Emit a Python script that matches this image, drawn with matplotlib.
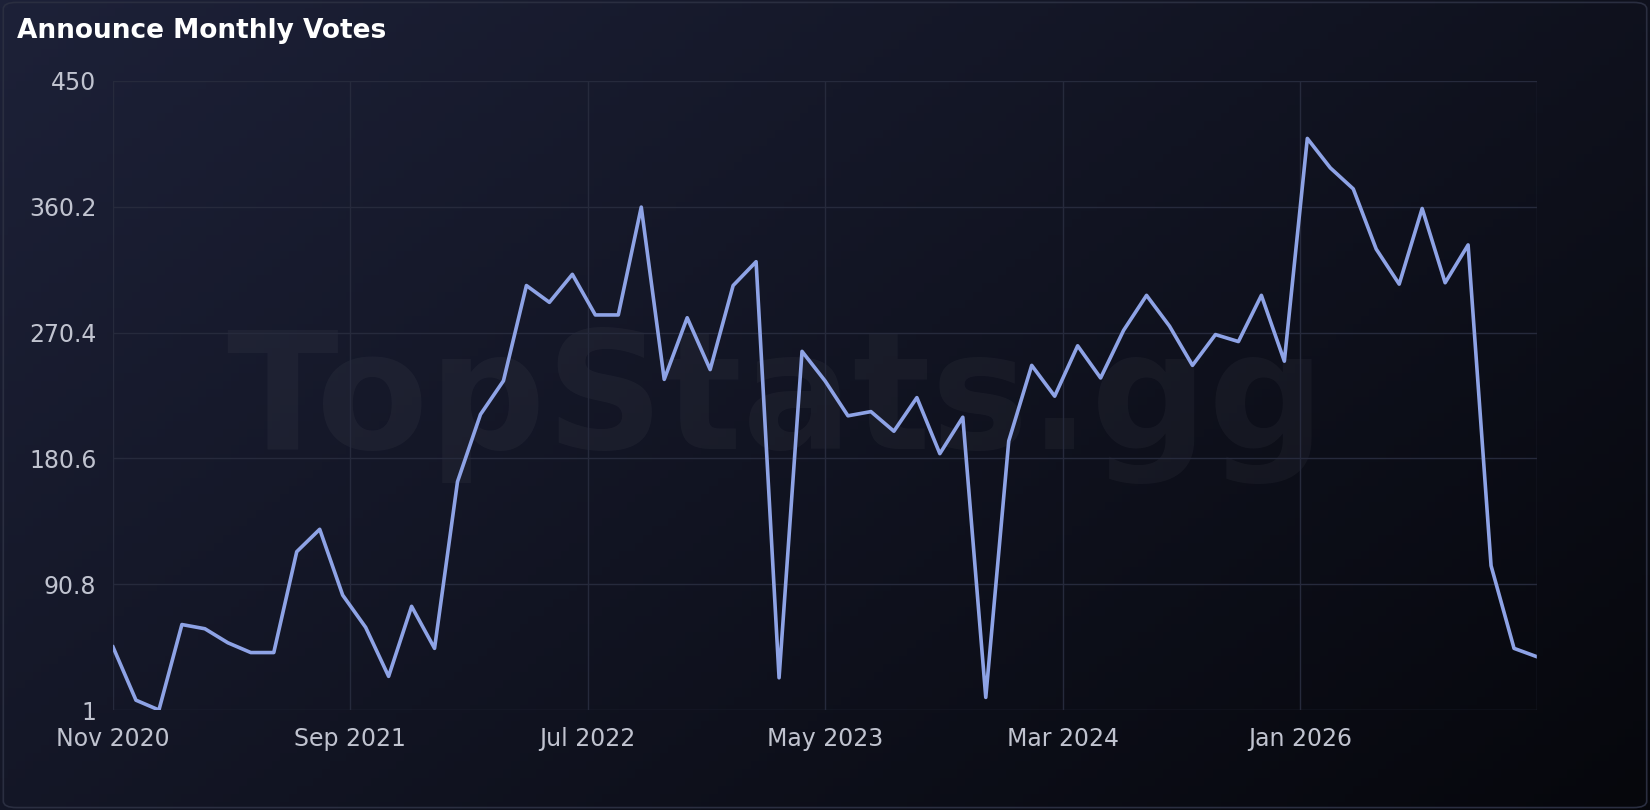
import matplotlib
matplotlib.use("Agg")
import matplotlib.pyplot as plt
import numpy as np
from matplotlib.patches import FancyBboxPatch

values = [46, 8, 1, 62, 59, 49, 42, 42, 114, 130, 83, 60, 25, 75, 45, 164, 212, 236,
          304, 292, 312, 283, 283, 360, 237, 281, 244, 304, 321, 24, 257, 236, 211, 214,
          200, 224, 184, 210, 10, 193, 247, 225, 261, 238, 272, 297, 275, 247, 269, 264,
          297, 250, 409, 388, 373, 330, 305, 359, 306, 333, 104, 45, 39]
tick_labels = ["Nov 2020", "Sep 2021", "Jul 2022", "May 2023", "Mar 2024", "Jan 2026"]
y_ticks = [1, 90.8, 180.6, 270.4, 360.2, 450]

fig = plt.figure(figsize=(16.5, 8.1), dpi=100)
fig.patch.set_facecolor("#0b0c14")
bg = fig.add_axes([0, 0, 1, 1], zorder=-10)
gx, gy = np.meshgrid(np.linspace(0, 1, 200), np.linspace(0, 1, 100))
t = np.clip(gx * 0.6 + gy * 0.4, 0, 1)
c0 = np.array([0x1d, 0x21, 0x38]) / 255
c1 = np.array([0x06, 0x07, 0x0c]) / 255
img = c0[None, None, :] * (1 - t[..., None]) + c1[None, None, :] * t[..., None]
bg.imshow(img, extent=[0, 1, 0, 1], aspect="auto", origin="upper")
bg.add_patch(FancyBboxPatch((0.002, 0.003), 0.996, 0.994, boxstyle="round,pad=0,rounding_size=0.008",
                            fill=False, ec="#2a2e40", lw=1.2, transform=bg.transAxes))
bg.set_axis_off()
bg.set_xlim(0, 1); bg.set_ylim(0, 1)
bg.text(0.47, 0.50, "TopStats.gg", fontsize=118, fontweight="bold", color="#ffffff", alpha=0.035,
        ha="center", va="center", family="DejaVu Sans")

ax = fig.add_axes([113/1650, 1-710/810, (1537-113)/1650, (710-81)/810])
ax.set_facecolor("none")
x = np.arange(len(values))
ax.plot(x, values, color="#8ea3e6", lw=2.6)
ax.set_xlim(0, len(values) - 1)
ax.set_ylim(1, 450)
step = (len(values) - 1) * 237.4 / (1537 - 113)
ax.set_xticks([i * step for i in range(len(tick_labels))])
ax.set_xticklabels(tick_labels)
ax.set_yticks(y_ticks)
ax.set_yticklabels(["1", "90.8", "180.6", "270.4", "360.2", "450"])
ax.grid(True, color="#262a3c", lw=1)
ax.axvline(len(values) - 1, color="#262a3c", lw=1)
for s in ax.spines.values():
    s.set_visible(False)
ax.tick_params(length=0, colors="#c0c3cf", labelsize=17, pad=12)
fig.text(17/1650, 1-31/810, "Announce Monthly Votes", color="white", fontsize=19,
         fontweight="bold", va="center", ha="left")
fig.savefig("out.png", dpi=100, facecolor=fig.get_facecolor())
